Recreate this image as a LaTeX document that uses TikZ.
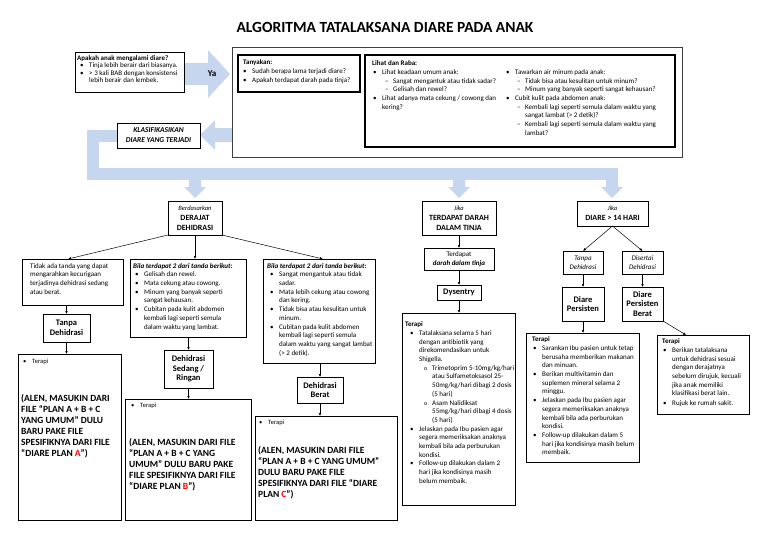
\documentclass[tikz,border=0pt]{standalone}
\usepackage{fontspec}
\setmainfont{Carlito}
\usetikzlibrary{calc,arrows.meta}
\definecolor{bandblue}{RGB}{198,214,238}
\newcommand\Bu[1]{\hspace*{#1}\makebox[9pt][l]{\textbullet}}
\newcommand\Ct[1]{\hspace*{\dimexpr#1+9pt\relax}}
\newcommand\Dh[1]{\hspace*{#1}\makebox[8pt][l]{–}}
\newcommand\Sb[1]{\hspace*{#1}\makebox[8pt][l]{{\fontsize{6}{7}\selectfont o}}}
\newcommand\BX[6][]{\node[box,#1,minimum width={(#5)-(#3)},minimum height={(#6)-(#4)}] (#2) at (#3,#4) {};}
\begin{document}
\begin{tikzpicture}[x=1pt,y=-1pt,
  box/.style={draw, fill=white, line width=0.8pt, inner sep=0pt, outer sep=0pt, anchor=north west},
  txt/.style={inner sep=0pt, anchor=north west, align=left, font=\fontsize{7}{8.7}\selectfont},
  lab/.style={inner sep=0pt, align=center, font=\fontsize{8.5}{9.5}\selectfont\bfseries},
  big/.style={inner sep=0pt, anchor=north west, align=left, font=\fontsize{9.5}{11}\selectfont\bfseries},
  conn/.style={-{Latex[length=3pt,width=2.6pt]}, line width=0.5pt},
  blk/.style={fill=bandblue}
]
\useasboundingbox (0,0) rectangle (768,543);

% title
\node[font=\fontsize{15.5}{18}\selectfont\bfseries] (title) at (385,27) {ALGORITMA TATALAKSANA DIARE PADA ANAK};

% blue block arrows and band
\fill[blk] (185,63) -- (208,63) -- (208,50) -- (230,74) -- (208,98) -- (208,85) -- (185,85) -- cycle;
\fill[blk] (232,128) -- (215,128) -- (215,120) -- (200,135) -- (215,150) -- (215,142) -- (232,142) -- cycle;
\draw[bandblue, line width=12pt] (118,136) -- (93,136) -- (93,173.5) -- (618,173.5);
\foreach \ax in {195,459,612}
  \fill[blk] (\ax-6,179) -- (\ax-6,187) -- (\ax-11,187) -- (\ax,198) -- (\ax+11,187) -- (\ax+6,187) -- (\ax+6,179) -- cycle;
\node[font=\fontsize{9}{10}\selectfont\bfseries] (ya) at (212,74) {Ya};

% top boxes
\BX{q}{75}{52}{184}{92}
\node[txt, font=\fontsize{7}{7.5}\selectfont] (qt) at (77,55) {\textbf{Apakah anak mengalami diare?}\\
\Bu{3pt}Tinja lebih berair dari biasanya.\\
\Bu{3pt}> 3 kali BAB dengan konsistensi\\
\Ct{3pt}lebih berair dan lembek.};

\BX[draw=black!75]{outer}{232}{47}{682}{157}
\BX[line width=1.2pt]{tny}{238}{55}{360}{92}
\node[txt, font=\fontsize{7}{9}\selectfont] (tnyt) at (243,59.5) {\textbf{Tanyakan:}\\
\Bu{0pt}Sudah berapa lama terjadi diare?\\
\Bu{0pt}Apakah terdapat darah pada tinja?};

\BX[line width=1.2pt]{lhr}{365}{55}{675}{147}
\node[txt] (lhra) at (372,60.5) {\textbf{Lihat dan Raba:}\\
\Bu{1pt}Lihat keadaan umum anak:\\
\Dh{13pt}Sangat mengantuk atau tidak sadar?\\
\Dh{13pt}Gelisah dan rewel?\\
\Bu{1pt}Lihat adanya mata cekung / cowong dan\\
\Ct{1pt}kering?};
\node[txt] (lhrb) at (506,69.3) {\Bu{0pt}Tawarkan air minum pada anak:\\
\Dh{11pt}Tidak bisa atau kesulitan untuk minum?\\
\Dh{11pt}Minum yang banyak seperti sangat kehausan?\\
\Bu{0pt}Cubit kulit pada abdomen anak:\\
\Dh{11pt}Kembali lagi seperti semula dalam waktu yang\\
\hspace*{19pt}sangat lambat (> 2 detik)?\\
\Dh{11pt}Kembali lagi seperti semula dalam waktu yang\\
\hspace*{19pt}lambat?};

\BX{klas}{117}{123}{200}{148}
\node[lab, font=\fontsize{7.5}{10}\selectfont\bfseries\itshape] (klast) at (klas.center) {KLASIFIKASIKAN\\DIARE YANG TERJADI};

% derajat dehidrasi branch
\BX{der}{168}{201}{222}{235}
\node[lab, font=\fontsize{8}{10}\selectfont\bfseries] (dert) at (der.center) {{\fontsize{6.5}{10}\selectfont\mdseries\itshape Berdasarkan}\\DERAJAT\\DEHIDRASI};

\BX{lft}{22}{259}{123}{305}
\node[txt] (lftt) at (30,263) {Tidak ada tanda yang dapat\\
mengarahkan kecurigaan\\
terjadinya dehidrasi sedang\\
atau berat.};

\BX{mid}{130}{259}{246}{337}
\node[txt] (midt) at (133,263) {\textbf{\textit{Bila terdapat 2 dari tanda berikut:}}\\
\Bu{2pt}Gelisah dan rewel.\\
\Bu{2pt}Mata cekung atau cowong.\\
\Bu{2pt}Minum yang banyak seperti\\
\Ct{2pt}sangat kehausan.\\
\Bu{2pt}Cubitan pada kulit abdomen\\
\Ct{2pt}kembali lagi seperti semula\\
\Ct{2pt}dalam waktu yang lambat.};

\BX{rgt}{263}{259}{375}{363}
\node[txt] (rgtt) at (267,263) {\textbf{\textit{Bila terdapat 2 dari tanda berikut:}}\\
\Bu{3pt}Sangat mengantuk atau tidak\\
\Ct{3pt}sadar.\\
\Bu{3pt}Mata lebih cekung atau cowong\\
\Ct{3pt}dan kering.\\
\Bu{3pt}Tidak bisa atau kesulitan untuk\\
\Ct{3pt}minum.\\
\Bu{3pt}Cubitan pada kulit abdomen\\
\Ct{3pt}kembali lagi seperti semula\\
\Ct{3pt}dalam waktu yang sangat lambat\\
\Ct{3pt}(> 2 detik).};

\BX{tnp}{43}{314}{90}{342}
\node[lab] (tnpt) at (tnp.center) {Tanpa\\Dehidrasi};
\BX{sed}{164}{350}{213}{388}
\node[lab] (sedt) at (sed.center) {Dehidrasi\\Sedang /\\Ringan};
\BX{ber}{297}{377}{343}{403}
\node[lab] (bert) at (ber.center) {Dehidrasi\\Berat};

\BX{tpa}{18}{354}{121}{520}
\node[txt, font=\fontsize{6.5}{8}\selectfont] (tpas) at (23,359) {\Bu{0pt}Terapi};
\node[big] (tpab) at (21,394) {(ALEN, MASUKIN DARI\\
FILE “PLAN A + B + C\\
YANG UMUM” DULU\\
BARU PAKE FILE\\
SPESIFIKNYA DARI FILE\\
“DIARE PLAN \textcolor{red}{A}”)};

\BX{tpb}{125}{399}{251}{520}
\node[txt, font=\fontsize{6.5}{8}\selectfont] (tpbs) at (131,403) {\Bu{0pt}Terapi};
\node[big] (tpbb) at (129,438) {(ALEN, MASUKIN DARI FILE\\
“PLAN A + B + C YANG\\
UMUM” DULU BARU PAKE\\
FILE SPESIFIKNYA DARI FILE\\
“DIARE PLAN \textcolor{red}{B}”)};

\BX{tpc}{255}{416}{397}{520}
\node[txt, font=\fontsize{6.5}{8}\selectfont] (tpcs) at (259,419.5) {\Bu{0pt}Terapi};
\node[big] (tpcb) at (258,446) {(ALEN, MASUKIN DARI FILE\\
“PLAN A + B + C YANG UMUM”\\
DULU BARU PAKE FILE\\
SPESIFIKNYA DARI FILE “DIARE\\
PLAN \textcolor{red}{C}”)};

% dysentry branch
\BX{tdr}{422}{201}{496}{235}
\node[lab, font=\fontsize{8}{10}\selectfont\bfseries] (tdrt) at (tdr.center) {{\fontsize{6.5}{10}\selectfont\mdseries\itshape Jika}\\TERDAPAT DARAH\\DALAM TINJA};
\BX{tdd}{424}{248}{494}{270}
\node[lab, font=\fontsize{7}{9}\selectfont] (tddt) at (tdd.center) {Terdapat\\\textbf{\textit{darah dalam tinja}}};
\BX{dys}{437}{285}{481}{300}
\node[lab] (dyst) at (dys.center) {Dysentry};
\BX{tpd}{402}{313}{515}{505}
\node[txt] (tpdt) at (405,321.6) {\textbf{Terapi}\\
\Bu{5pt}Tatalaksana selama 5 hari\\
\Ct{5pt}dengan antibiotik yang\\
\Ct{5pt}direkomendasikan untuk\\
\Ct{5pt}Shigella.\\
\Sb{19pt}Trimetoprim 5-10mg/kg/hari\\
\hspace*{27pt}atau Sulfametoksasol 25-\\
\hspace*{27pt}50mg/kg/hari dibagi 2 dosis\\
\hspace*{27pt}(5 hari)\\
\Sb{19pt}Asam Nalidiksat\\
\hspace*{27pt}55mg/kg/hari dibagi 4 dosis\\
\hspace*{27pt}(5 hari)\\
\Bu{5pt}Jelaskan pada Ibu pasien agar\\
\Ct{5pt}segera memeriksakan anaknya\\
\Ct{5pt}kembali bila ada perburukan\\
\Ct{5pt}kondisi.\\
\Bu{5pt}Follow-up dilakukan dalam 2\\
\Ct{5pt}hari jika kondisinya masih\\
\Ct{5pt}belum membaik.};

% persistent diarrhoea branch
\BX{dlm}{577}{201}{648}{226}
\node[lab, font=\fontsize{8}{10}\selectfont\bfseries] (dlmt) at (dlm.center) {{\fontsize{6.5}{10}\selectfont\mdseries\itshape Jika}\\DIARE > 14 HARI};
\BX{tn2}{563}{251}{603}{274}
\node[lab, font=\fontsize{7}{9}\selectfont\itshape] (tn2t) at (tn2.center) {Tanpa\\Dehidrasi};
\BX{dis}{622}{251}{663}{274}
\node[lab, font=\fontsize{7}{9}\selectfont\itshape] (dist) at (dis.center) {Disertai\\Dehidrasi};
\BX{per}{562}{287}{604}{321}
\node[lab] (pert) at (per.center) {Diare\\Persisten};
\BX{pbr}{622}{287}{663}{321}
\node[lab] (pbrt) at (pbr.center) {Diare\\Persisten\\Berat};

\BX{tpl}{526}{333}{639}{462}
\node[txt] (tplt) at (532,336.6) {\textbf{Terapi}\\
\Bu{1pt}Sarankan Ibu pasien untuk tetap\\
\Ct{1pt}berusaha memberikan makanan\\
\Ct{1pt}dan minuan.\\
\Bu{1pt}Berikan multivitamin dan\\
\Ct{1pt}suplemen mineral selama 2\\
\Ct{1pt}minggu.\\
\Bu{1pt}Jelaskan pada Ibu pasien agar\\
\Ct{1pt}segera memeriksakan anaknya\\
\Ct{1pt}kembali bila ada perburukan\\
\Ct{1pt}kondisi.\\
\Bu{1pt}Follow-up dilakukan dalam 5\\
\Ct{1pt}hari jika kondisinya masih belum\\
\Ct{1pt}membaik.};

\BX{tpr}{657}{335}{749}{414}
\node[txt] (tprt) at (662,338.6) {\textbf{Terapi}\\
\Bu{1pt}Berikan tatalaksana\\
\Ct{1pt}untuk dehidrasi sesuai\\
\Ct{1pt}dengan derajatnya\\
\Ct{1pt}sebelum dirujuk, kecuali\\
\Ct{1pt}jika anak memiliki\\
\Ct{1pt}klasifikasi berat lain.\\[1pt]
\Bu{1pt}Rujuk ke rumah sakit.};

% connectors
\draw[conn] (der.south west) -- ($(lft.north west)+(46,0)$);
\draw[conn] (der.south) -- (der.south |- mid.north);
\draw[conn] (der.south east) -- ($(rgt.north west)+(60,0)$);
\draw[conn] (tnp.north |- lft.south) -- (tnp.north);
\draw[conn] (tnp.south) -- (tnp.south |- tpa.north);
\draw[conn] (sed.north |- mid.south) -- (sed.north);
\draw[conn] (sed.south) -- (sed.south |- tpb.north);
\draw[conn] (ber.north |- rgt.south) -- (ber.north);
\draw[conn] (ber.south) -- (ber.south |- tpc.north);
\draw[conn] (tdd.north |- tdr.south) -- (tdd.north);
\draw[conn] (tdd.south) -- (dys.north);
\draw[conn] (dys.south) -- (dys.south |- tpd.north);
\draw[conn] (dlm.south) -- (tn2.north);
\draw[conn] (dlm.south) -- (dis.north);
\draw[conn] (tn2.south) -- (per.north);
\draw[conn] (dis.south) -- (pbr.north);
\draw[conn] (per.south) -- (per.south |- tpl.north);
\draw[conn] (pbr.south east) -- ($(tpr.north west)+(29,0)$);
\end{tikzpicture}
\end{document}
